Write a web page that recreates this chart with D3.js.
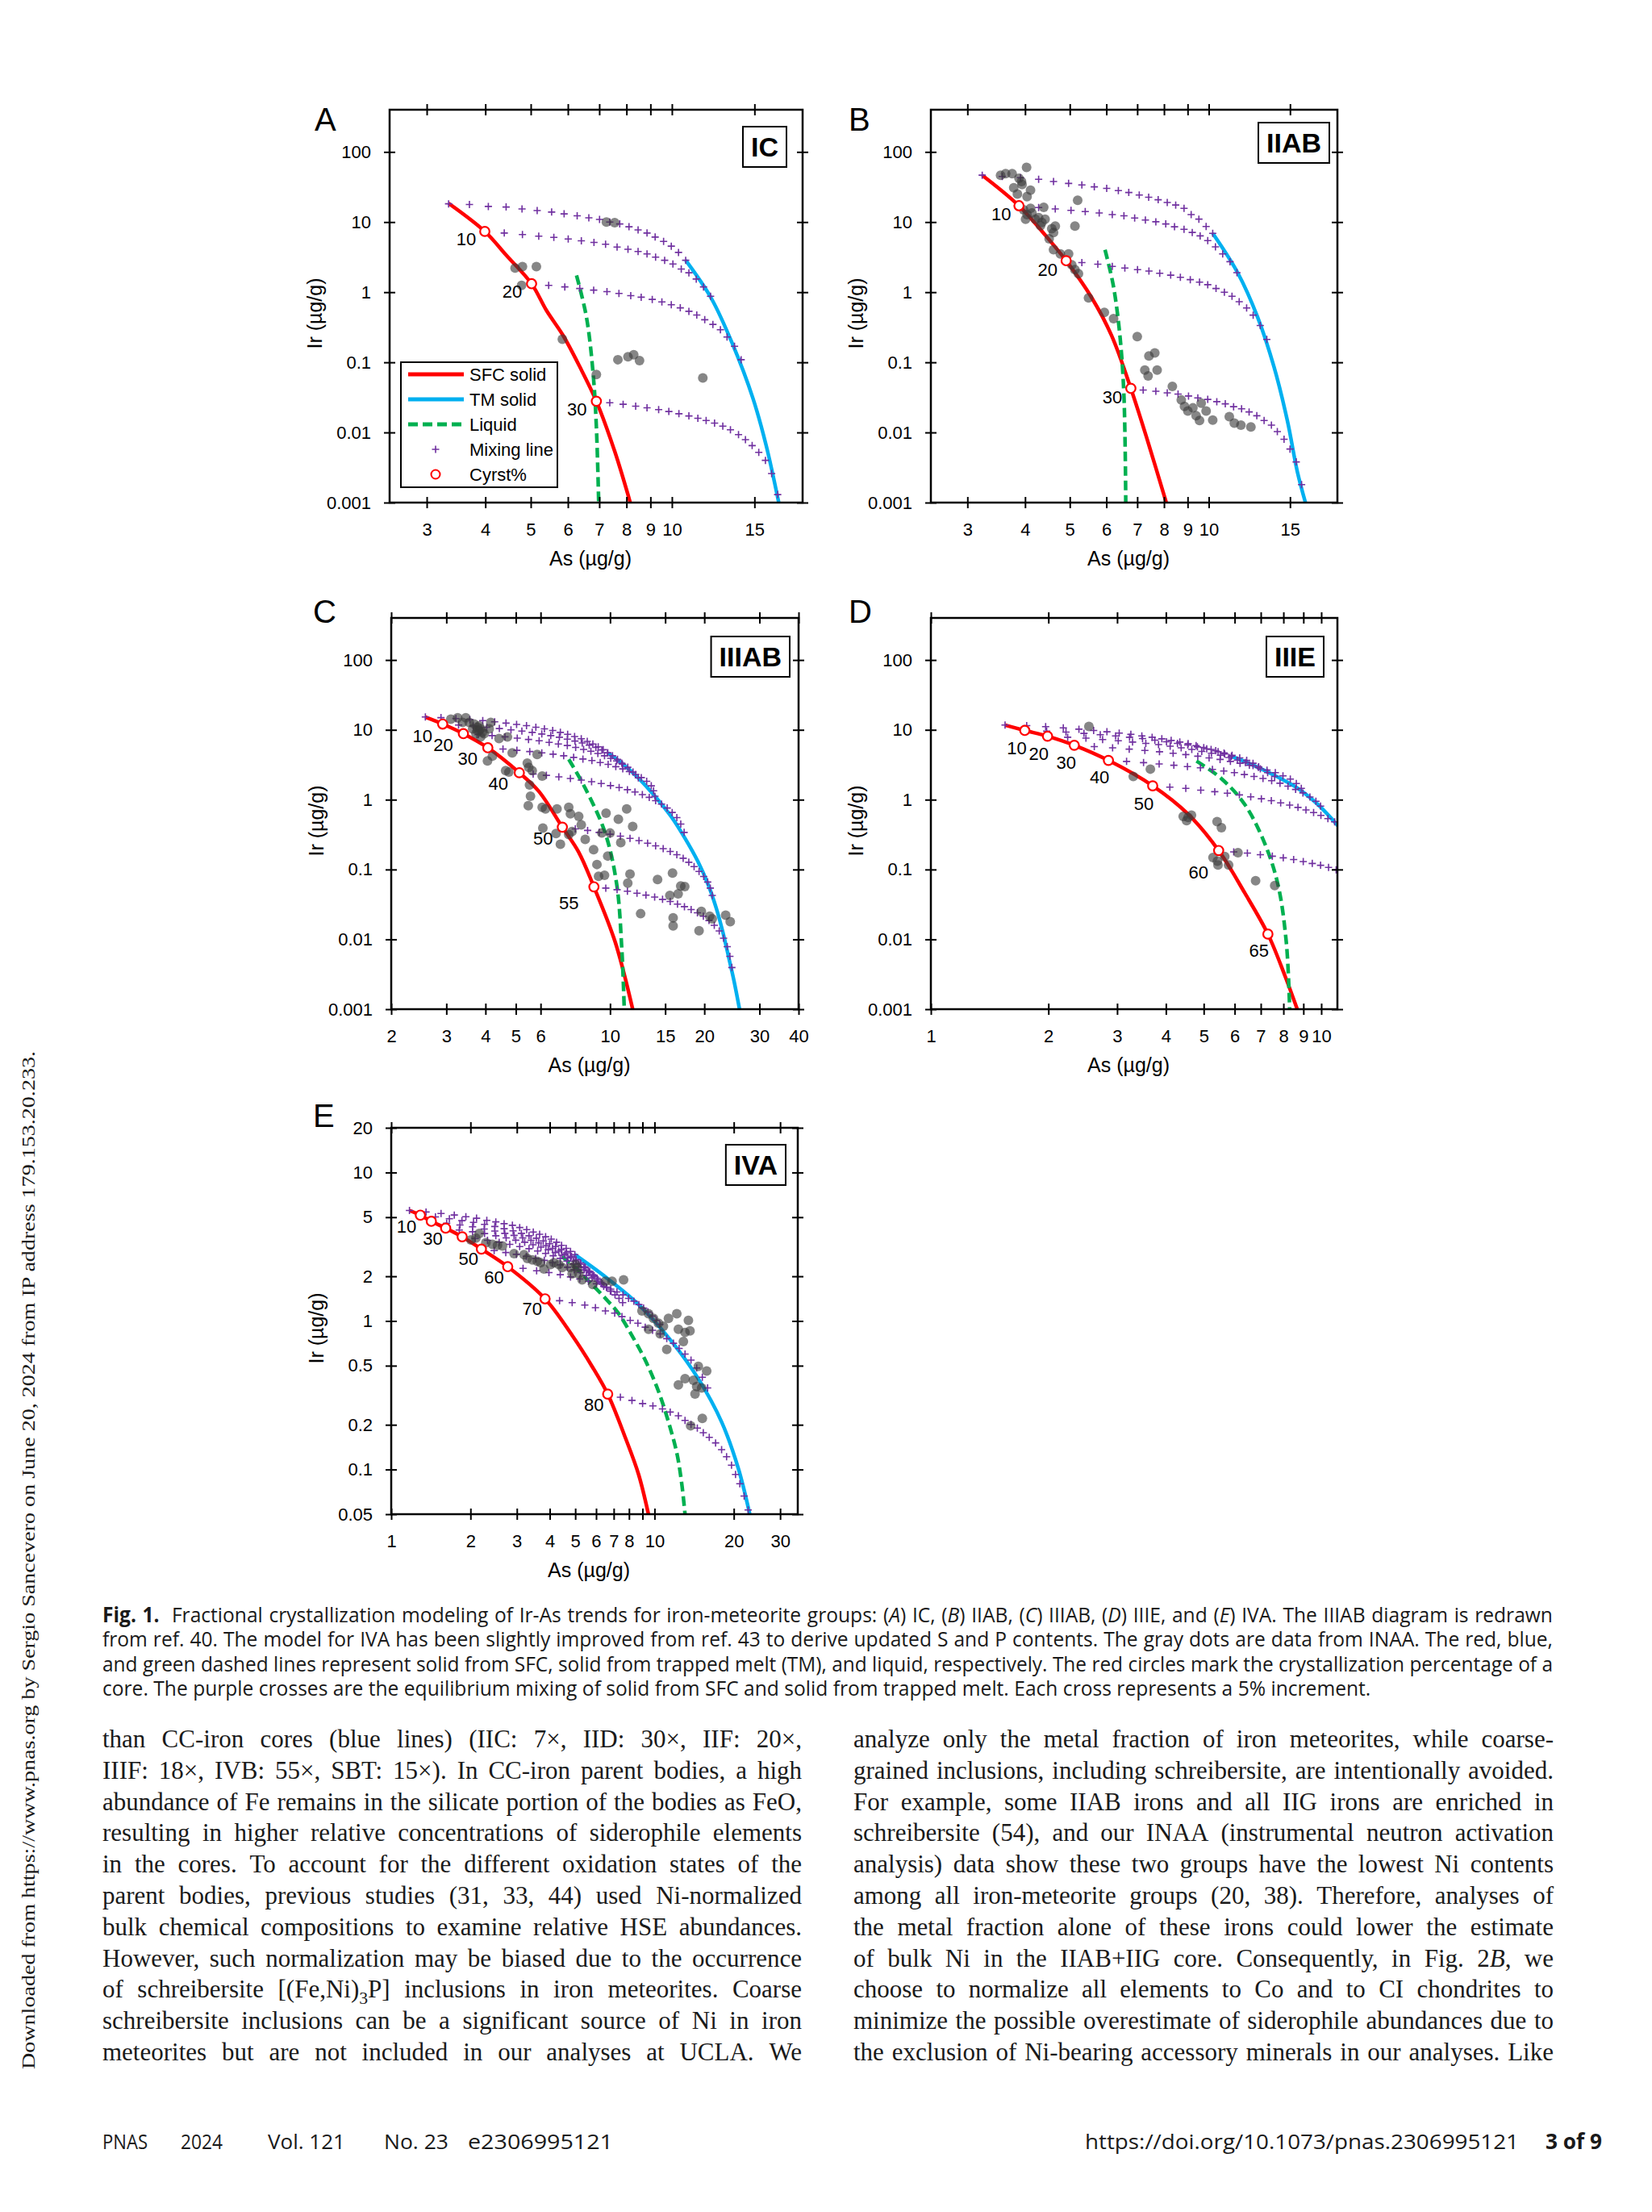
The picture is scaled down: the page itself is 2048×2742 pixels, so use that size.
<!DOCTYPE html>
<html>
<head>
<meta charset="utf-8">
<script src="https://cdn.jsdelivr.net/npm/d3@7"></script>
<style>
  body { margin: 0; background: #fff; }
  svg { display: block; }
</style>
</head>
<body>
<div id="container"></div>
<script>
// ---------- data (As, Ir in µg/g) ----------

// A: IC
const icSfc = [[3.34,18.5],[3.99,7.35],[4.44,3.33],[5.02,1.32],[5.40,0.55],[5.86,0.242],[6.36,0.0866],[6.90,0.0279],[7.55,0.0054],[8.15,0.001]];
const icTm = [[10.7,2.85],[12.12,0.83],[13.49,0.178],[14.88,0.031],[15.88,0.0066],[16.9,0.001]];
const icLiq = [[6.26,1.74],[6.57,0.449],[6.79,0.0705],[6.90,0.0123],[6.98,0.001]];
const icMix0 = [[3.34,18.2],[3.70,17.8],[4.06,16.7],[4.43,16.4],[4.79,15.4],[5.16,14.6],[5.54,13.9],[5.89,13.1],[6.28,12.3],[6.65,11.5],[7.01,10.9],[7.37,10],[7.74,9.4],[8.10,8.57],[8.47,7.73],[8.85,6.98],[9.21,6.11],[9.60,5.29],[9.97,4.53],[10.33,3.69],[10.7,2.85]];
const icMix10 = [[3.99,7.35],[4.39,6.98],[4.80,6.63],[5.20,6.29],[5.60,6.04],[6.01,5.74],[6.41,5.40],[6.82,5.13],[7.22,4.82],[7.64,4.40],[8.06,4.09],[8.47,3.80],[8.85,3.51],[9.23,3.16],[9.65,2.85],[10.05,2.52],[10.47,2.14],[10.87,1.89],[11.27,1.54],[11.68,1.19],[12.09,0.875]];
const icMix20 = [[5.02,1.32],[5.46,1.25],[5.91,1.19],[6.36,1.13],[6.81,1.07],[7.27,1.02],[7.71,0.96],[8.17,0.893],[8.60,0.849],[9.08,0.789],[9.52,0.727],[9.97,0.663],[10.42,0.598],[10.87,0.534],[11.30,0.472],[11.75,0.405],[12.23,0.347],[12.69,0.291],[13.11,0.230],[13.6,0.169],[14.05,0.109]];
const icMix30 = [[6.90,0.0279],[7.37,0.0265],[7.87,0.0252],[8.37,0.0237],[8.85,0.0225],[9.37,0.0212],[9.85,0.0199],[10.35,0.0185],[10.87,0.0172],[11.36,0.0159],[11.83,0.0148],[12.33,0.0136],[12.84,0.0123],[13.33,0.0109],[13.87,0.0093],[14.35,0.0079],[14.83,0.0065],[15.32,0.0052],[15.83,0.0040],[16.32,0.0026],[16.81,0.0013]];
const icCirc = [[3.99,7.35,10],[5.02,1.32,20],[6.90,0.0279,30]];
const icDots = [[4.63,2.21],[4.80,2.32],[5.14,2.32],[4.78,1.25],[5.84,0.214],[7.25,10],[7.55,9.8],[6.90,0.067],[7.67,0.109],[8.06,0.120],[8.29,0.128],[8.53,0.106],[11.64,0.060]];

// B: IIAB
const iiabSfc = [[3.23,46.6],[3.88,17.1],[4.42,6.55],[4.91,2.81],[5.58,0.83],[6.16,0.24],[6.78,0.0425],[7.39,0.0072],[8.09,0.001]];
const iiabTm = [[10.2,6.9],[11.55,1.90],[12.75,0.447],[13.85,0.0857],[14.8,0.0148],[15.55,0.0028],[16.2,0.001]];
const iiabLiq = [[5.96,4.03],[6.21,1.26],[6.42,0.24],[6.55,0.0338],[6.61,0.001]];
const iiabMix0 = [[3.23,46.6],[3.57,44.7],[3.91,42.9],[4.28,40.7],[4.61,37.9],[4.97,35.6],[5.31,33.8],[5.65,31.8],[6.01,30.2],[6.37,28.1],[6.71,26.4],[7.07,24.3],[7.41,22.6],[7.77,20.8],[8.13,19.0],[8.48,17.5],[8.84,15.7],[9.16,12.8],[9.52,11.0],[9.87,8.66],[10.2,6.9]];
const iiabMix10 = [[3.88,17.1],[4.28,16.1],[4.65,15.4],[5.03,14.7],[5.40,14.1],[5.79,13.5],[6.18,12.8],[6.55,12.3],[6.91,11.4],[7.29,10.7],[7.68,10.1],[8.07,9.4],[8.43,8.57],[8.84,7.88],[9.21,7.11],[9.58,6.35],[9.95,5.44],[10.34,4.43],[10.72,3.52],[11.12,2.72],[11.51,1.90]];
const iiabMix20 = [[4.91,2.81],[5.31,2.64],[5.75,2.51],[6.18,2.33],[6.58,2.21],[7.01,2.10],[7.42,2.00],[7.83,1.86],[8.27,1.75],[8.68,1.63],[9.12,1.51],[9.55,1.39],[9.95,1.28],[10.37,1.13],[10.81,1.0],[11.23,0.875],[11.64,0.733],[12.08,0.597],[12.48,0.471],[12.93,0.335],[13.36,0.212]];
const iiabMix30 = [[6.78,0.0425],[7.21,0.0403],[7.68,0.0387],[8.13,0.0367],[8.58,0.0352],[9.04,0.0331],[9.47,0.0311],[9.95,0.0296],[10.41,0.0275],[10.86,0.0256],[11.32,0.0233],[11.78,0.0217],[12.23,0.0196],[12.71,0.0173],[13.18,0.0148],[13.67,0.0127],[14.08,0.0103],[14.56,0.0080],[15.0,0.0058],[15.47,0.0038],[15.89,0.0018]];
const iiabCirc = [[3.88,17.1,10],[4.91,2.81,20],[6.78,0.0425,30]];
const iiabDots = [[3.54,46.6],[3.63,49.1],[3.75,49.1],[3.88,42.0],[3.93,37.9],[4.03,60.3],[4.11,28.4],[4.04,23.1],[3.78,30.8],[3.85,25.1],[3.94,34.2],[3.97,14.96],[4.04,12.8],[4.14,13.5],[4.21,11.0],[4.28,11.6],[4.35,9.9],[4.42,11.0],[4.32,8.9],[4.01,11.0],[4.11,15.7],[4.39,16.2],[4.57,8.05],[4.65,8.75],[4.61,7.11],[4.51,5.79],[4.61,4.03],[4.77,3.52],[4.97,3.52],[5.05,2.45],[5.13,2.10],[5.22,1.84],[5.20,20.4],[5.13,8.75],[5.49,0.83],[5.94,0.516],[6.22,0.420],[7.0,0.233],[7.42,0.123],[7.64,0.136],[7.27,0.0773],[7.39,0.0641],[7.73,0.0773],[8.34,0.0452],[8.72,0.029],[8.86,0.0236],[9.01,0.0202],[9.24,0.0224],[9.39,0.0173],[9.63,0.0261],[9.87,0.0202],[9.55,0.0148],[10.2,0.015],[11.08,0.0168],[11.36,0.0136],[11.74,0.0127],[12.34,0.012]];

// C: IIIAB
const iiiabSfc = [[2.57,15.2],[2.92,12.1],[3.40,8.81],[4.07,5.53],[5.13,2.43],[5.92,1.32],[7.04,0.404],[7.94,0.177],[8.88,0.0565],[10.38,0.0092],[11.81,0.001]];
const iiiabTm = [[9.84,4.68],[10.90,3.33],[12.31,2.05],[13.91,1.12],[15.71,0.565],[17.32,0.284],[19.10,0.129],[20.55,0.0615],[21.84,0.0279],[22.93,0.0126],[24.08,0.00488],[24.98,0.00233],[25.91,0.001]];
const iiiabLiq = [[7.38,3.78],[8.33,1.46],[9.65,0.333],[10.5,0.0615],[10.9,0.0074],[11.1,0.001]];
const iiiabMix0 = [[2.571,15.26],[2.884,14.94],[3.218,14.47],[3.565,14.02],[3.921,13.58],[4.280,13.02],[4.652,12.48],[5.029,11.97],[5.409,11.47],[5.794,10.88],[6.171,10.32],[6.559,9.79],[6.938,9.19],[7.320,8.63],[7.704,8.01],[8.091,7.44],[8.456,6.84],[8.812,6.28],[9.165,5.71],[9.506,5.20],[9.835,4.68]];
const iiiabMix10 = [[2.919,12.09],[3.282,11.72],[3.654,11.35],[4.037,10.88],[4.430,10.43],[4.825,10],[5.228,9.59],[5.640,9.19],[6.053,8.72],[6.465,8.27],[6.888,7.84],[7.302,7.36],[7.724,6.91],[8.150,6.49],[8.580,6.02],[9.007,5.59],[9.413,5.14],[9.81,4.68],[10.18,4.25],[10.56,3.78],[10.90,3.33]];
const iiiabMix20 = [[3.396,8.81],[3.790,8.54],[4.199,8.27],[4.617,7.93],[5.053,7.60],[5.490,7.28],[5.935,6.98],[6.389,6.62],[6.837,6.28],[7.302,5.96],[7.764,5.59],[8.231,5.25],[8.685,4.93],[9.141,4.58],[9.60,4.25],[10.05,3.91],[10.50,3.59],[10.95,3.23],[11.39,2.91],[11.84,2.48],[12.31,2.05]];
const iiiabMix30 = [[4.068,5.53],[4.55,5.31],[5.04,5.09],[5.54,4.88],[6.053,4.68],[6.577,4.48],[7.110,4.25],[7.650,4.03],[8.19,3.82],[8.75,3.63],[9.30,3.40],[9.86,3.20],[10.43,2.97],[10.98,2.76],[11.53,2.53],[12.07,2.30],[12.58,2.07],[13.09,1.83],[13.54,1.58],[13.77,1.34],[13.91,1.12]];
const iiiabMix40 = [[5.13,2.43],[5.68,2.33],[6.26,2.23],[6.86,2.12],[7.47,2.01],[8.09,1.91],[8.73,1.81],[9.37,1.70],[10.03,1.59],[10.69,1.49],[11.36,1.39],[12.01,1.29],[12.68,1.18],[13.34,1.08],[13.98,0.969],[14.60,0.863],[15.22,0.760],[15.79,0.656],[16.34,0.553],[16.82,0.448],[17.24,0.340]];
const iiiabMix50 = [[7.04,0.403],[7.745,0.382],[8.478,0.363],[9.23,0.340],[10.0,0.320],[10.79,0.300],[11.58,0.279],[12.37,0.259],[13.18,0.238],[13.98,0.218],[14.78,0.199],[15.56,0.181],[16.34,0.163],[17.12,0.145],[17.84,0.127],[18.55,0.110],[19.24,0.0939],[19.91,0.0793],[20.5,0.0662],[20.9,0.0542],[21.2,0.0425]];
const iiiabMix55 = [[8.88,0.0565],[9.69,0.0542],[10.53,0.0514],[11.36,0.0488],[12.19,0.0458],[13.02,0.0430],[13.88,0.0403],[14.71,0.0374],[15.56,0.0348],[16.42,0.0320],[17.28,0.0294],[18.15,0.0267],[19.01,0.0240],[19.86,0.0214],[20.70,0.0186],[21.52,0.0159],[22.32,0.0132],[23.04,0.0104],[23.67,0.00784],[24.14,0.00571],[24.49,0.00395]];
const iiiabCirc = [[2.92,12.1,10],[3.40,8.81,20],[4.07,5.53,30],[5.13,2.43,40],[7.04,0.404,50],[8.88,0.0565,55]];
const iiiabDots = [[3.10,14.2],[3.26,14.9],[3.46,14.9],[3.38,12.8],[3.55,12.8],[3.68,12.1],[3.77,10.9],[3.82,9.8],[3.64,10.3],[3.73,8.81],[3.86,7.93],[3.96,8.81],[4.16,12.8],[4.11,10.3],[4.42,7.52],[4.70,7.93],[4.87,4.68],[4.06,3.59],[4.21,4.21],[4.64,2.61],[4.75,2.48],[5.44,3.33],[5.50,2.90],[5.64,2.61],[5.85,4.44],[6.07,2.18],[5.53,1.63],[5.57,1.12],[5.48,0.818],[6.07,0.776],[6.22,0.736],[6.77,0.736],[7.38,0.776],[7.47,0.628],[7.94,0.577],[6.10,0.391],[6.72,0.327],[6.94,0.230],[7.38,0.316],[7.56,0.351],[8.09,0.435],[8.33,0.270],[8.86,0.192],[9.08,0.118],[9.19,0.080],[9.60,0.0826],[9.41,0.333],[9.83,0.156],[9.71,0.641],[10.63,0.525],[11.30,0.736],[11.81,0.412],[10.82,0.243],[11.58,0.0863],[11.39,0.0636],[12.52,0.0233],[14.18,0.0721],[15.52,0.0425],[15.83,0.0891],[16.5,0.0448],[16.82,0.0583],[17.32,0.057],[15.9,0.0203],[15.9,0.0156],[19.24,0.0133],[19.57,0.0251],[20.8,0.0214],[21.2,0.0197],[23.4,0.0221],[24.2,0.0179],[3.82,11.4],[3.86,10.3],[3.91,9.2],[3.77,9.8],[10.0,0.333]];

// D: IIIE
const iiieSfc = [[1.55,11.7],[1.74,9.8],[1.99,8.09],[2.33,6.01],[2.85,3.65],[3.70,1.58],[4.56,0.621],[5.46,0.187],[6.37,0.0461],[7.30,0.0119],[8.06,0.00308],[8.68,0.001]];
const iiieTm = [[5.886,4.19],[6.754,3.05],[7.748,2.10],[8.717,1.45],[9.806,0.853],[11.07,0.414]];
const iiieLiq = [[4.79,3.57],[5.55,2.0],[6.37,0.853],[7.16,0.239],[7.75,0.0601],[8.14,0.0089],[8.30,0.001]];
const iiieMix0 = [[1.549,11.73],[1.760,11.48],[1.968,11.12],[2.184,10.66],[2.395,10.21],[2.612,9.79],[2.825,9.38],[3.037,8.99],[3.253,8.62],[3.471,8.17],[3.688,7.83],[3.905,7.43],[4.126,7.05],[4.342,6.68],[4.560,6.34],[4.780,5.95],[5.001,5.58],[5.222,5.24],[5.441,4.86],[5.658,4.51],[5.886,4.19]];
const iiieMix10 = [[1.743,9.79],[1.980,9.58],[2.219,9.28],[2.467,8.90],[2.716,8.53],[2.973,8.17],[3.228,7.83],[3.485,7.51],[3.747,7.12],[4.014,6.75],[4.282,6.40],[4.551,6.07],[4.817,5.70],[5.089,5.35],[5.366,5.02],[5.636,4.66],[5.909,4.32],[6.182,3.97],[6.442,3.65],[6.687,3.32],[6.914,2.95]];
const iiieMix20 = [[1.988,8.09],[2.241,7.83],[2.496,7.59],[2.754,7.27],[3.020,6.97],[3.286,6.68],[3.553,6.40],[3.830,6.14],[4.102,5.82],[4.377,5.52],[4.660,5.24],[4.942,4.91],[5.233,4.61],[5.517,4.32],[5.805,4.01],[6.098,3.69],[6.392,3.39],[6.687,3.08],[6.982,2.77],[7.290,2.44],[7.597,2.15]];
const iiieMix30 = [[2.330,6.01],[2.622,5.76],[2.921,5.52],[3.222,5.29],[3.533,5.07],[3.852,4.86],[4.174,4.61],[4.498,4.42],[4.828,4.19],[5.161,3.97],[5.506,3.77],[5.852,3.53],[6.194,3.32],[6.544,3.11],[6.901,2.89],[7.262,2.65],[7.627,2.44],[7.979,2.19],[8.332,1.97],[8.633,1.70],[8.890,1.45]];
const iiieMix40 = [[2.847,3.65],[3.172,3.53],[3.506,3.39],[3.844,3.25],[4.192,3.11],[4.542,2.98],[4.903,2.86],[5.263,2.71],[5.627,2.57],[5.991,2.44],[6.354,2.29],[6.726,2.15],[7.092,2.01],[7.464,1.87],[7.840,1.72],[8.218,1.56],[8.597,1.40],[8.976,1.25],[9.354,1.09],[9.690,0.948],[9.96,0.809]];
const iiieMix50 = [[3.696,1.58],[4.094,1.51],[4.498,1.45],[4.913,1.37],[5.336,1.30],[5.747,1.24],[6.171,1.17],[6.597,1.10],[7.024,1.03],[7.449,0.969],[7.871,0.899],[8.299,0.835],[8.717,0.775],[9.138,0.712],[9.559,0.654],[9.98,0.595],[10.40,0.535],[10.82,0.481]];
const iiieMix60 = [[5.464,0.187],[5.968,0.179],[6.468,0.172],[6.982,0.163],[7.493,0.155],[7.993,0.147],[8.497,0.139],[8.993,0.130],[9.484,0.122],[9.96,0.115],[10.44,0.107],[10.92,0.099]];
const iiieCirc = [[1.74,9.8,10],[1.99,8.09,20],[2.33,6.01,30],[2.85,3.65,40],[3.70,1.58,50],[5.46,0.187,60],[7.30,0.0119,65]];
const iiieDots = [[2.54,11.2],[3.30,2.15],[3.65,2.74],[4.43,0.575],[4.52,0.501],[4.65,0.601],[4.56,0.558],[5.41,0.486],[5.55,0.397],[5.28,0.148],[5.44,0.116],[5.42,0.132],[5.66,0.153],[5.79,0.116],[6.12,0.174],[6.79,0.069],[7.60,0.0589]];

// E: IVA
const ivaSfc = [[1.173,5.55],[1.29,5.16],[1.42,4.69],[1.61,4.22],[1.86,3.69],[2.20,3.05],[2.77,2.32],[3.84,1.41],[4.87,0.798],[5.79,0.495],[6.64,0.322],[7.74,0.1645],[8.70,0.0926],[9.49,0.0497]];
const ivaTm = [[4.98,2.80],[6.51,1.98],[8.70,1.29],[11.63,0.726],[14.67,0.408],[17.98,0.209],[20.8,0.102],[23.0,0.05]];
const ivaLiq = [[4.46,2.71],[5.16,2.18],[5.79,1.76],[6.51,1.42],[7.31,1.12],[8.21,0.798],[9.22,0.545],[10.35,0.337],[11.30,0.209],[12.15,0.1295],[12.69,0.0802],[13.06,0.05]];
const ivaMix0 = [[1.173,5.55],[1.356,5.42],[1.546,5.29],[1.736,5.17],[1.921,5.04],[2.109,4.92],[2.307,4.76],[2.496,4.65],[2.684,4.52],[2.886,4.41],[3.076,4.26],[3.270,4.12],[3.464,3.97],[3.661,3.84],[3.858,3.69],[4.053,3.56],[4.246,3.39],[4.436,3.23],[4.619,3.08],[4.797,2.94],[4.982,2.80]];
const ivaMix10 = [[1.287,5.17],[1.472,5.02],[1.663,4.88],[1.856,4.74],[2.054,4.61],[2.262,4.47],[2.474,4.33],[2.684,4.18],[2.903,4.05],[3.122,3.89],[3.337,3.75],[3.557,3.61],[3.780,3.46],[3.996,3.31],[4.209,3.17],[4.422,3.02],[4.632,2.88],[4.839,2.73],[5.040,2.59],[5.234,2.46],[5.435,2.32]];
const ivaMix20 = [[1.425,4.69],[1.624,4.56],[1.824,4.43],[2.037,4.31],[2.255,4.16],[2.474,4.03],[2.700,3.89],[2.928,3.77],[3.158,3.63],[3.395,3.49],[3.630,3.36],[3.869,3.22],[4.101,3.08],[4.333,2.95],[4.566,2.81],[4.797,2.68],[5.025,2.54],[5.248,2.41],[5.466,2.28],[5.677,2.15],[5.895,2.02]];
const ivaMix30 = [[1.605,4.22],[1.813,4.10],[2.037,3.99],[2.262,3.88],[2.496,3.75],[2.732,3.63],[2.971,3.50],[3.213,3.39],[3.455,3.26],[3.704,3.14],[3.949,3.02],[4.197,2.89],[4.449,2.77],[4.687,2.66],[4.924,2.53],[5.158,2.41],[5.388,2.29],[5.611,2.17],[5.827,2.05],[6.051,1.94],[6.266,1.82]];
const ivaMix40 = [[1.856,3.69],[2.084,3.59],[2.321,3.49],[2.570,3.39],[2.820,3.28],[3.076,3.17],[3.337,3.07],[3.598,2.96],[3.858,2.85],[4.124,2.75],[4.385,2.64],[4.646,2.53],[4.909,2.42],[5.158,2.32],[5.404,2.21],[5.644,2.11],[5.877,2.00],[6.103,1.90],[6.339,1.79],[6.564,1.69],[6.797,1.59]];
const ivaMix50 = [[2.203,3.05],[2.460,2.98],[2.723,2.89],[2.988,2.81],[3.260,2.73],[3.536,2.64],[3.814,2.56],[4.101,2.47],[4.385,2.39],[4.673,2.30],[4.953,2.21],[5.234,2.12],[5.513,2.03],[5.794,1.95],[6.051,1.85],[6.320,1.77],[6.584,1.68],[6.837,1.59],[7.079,1.50],[7.331,1.42],[7.568,1.33]];
const ivaMix60 = [[2.77,2.32],[3.167,2.26],[3.567,2.18],[3.972,2.12],[4.385,2.05],[4.797,1.98],[5.203,1.92],[5.611,1.85],[6.016,1.78],[6.412,1.71],[6.816,1.64],[7.20,1.57],[7.59,1.50],[7.97,1.42],[8.35,1.36],[8.72,1.29],[9.09,1.22],[9.44,1.15],[9.80,1.08],[10.15,1.01],[10.48,0.949]];
const ivaMix70 = [[3.836,1.41],[4.359,1.37],[4.867,1.33],[5.435,1.28],[5.965,1.23],[6.508,1.17],[7.059,1.13],[7.523,1.07],[8.087,1.01],[8.647,0.967],[9.22,0.909],[9.83,0.866],[10.51,0.818],[11.13,0.761],[11.80,0.708],[12.40,0.653],[13.06,0.599],[13.76,0.545],[14.46,0.483],[15.19,0.418],[15.91,0.354]];
const ivaMix80 = [[6.64,0.322],[7.42,0.3065],[8.21,0.292],[9.01,0.278],[9.86,0.268],[10.72,0.2556],[11.47,0.2436],[12.32,0.230],[13.06,0.214],[13.76,0.201],[14.54,0.190],[15.32,0.177],[16.14,0.1645],[17.06,0.151],[17.98,0.136],[18.78,0.122],[19.61,0.107],[20.31,0.0926],[21.09,0.0802],[21.90,0.0663],[22.68,0.0534]];
const ivaCirc = [[1.29,5.16,10],[1.42,4.69,20],[1.61,4.22,30],[1.86,3.69,40],[2.20,3.05,50],[2.77,2.32,60],[3.84,1.41,70],[6.64,0.322,80]];
const ivaDots = [[2.007,3.52],[2.159,3.88],[2.097,3.61],[2.288,3.36],[2.424,3.28],[2.533,3.23],[2.645,3.20],[2.928,2.84],[3.195,2.80],[3.289,2.64],[3.435,2.58],[3.588,2.52],[3.694,2.47],[3.802,2.24],[4.030,2.40],[4.148,2.47],[4.333,2.40],[4.461,2.29],[4.797,2.29],[5.011,2.40],[5.084,2.29],[5.158,2.08],[5.310,1.89],[4.867,2.08],[5.827,1.76],[6.508,1.85],[6.897,1.85],[7.63,1.89],[8.96,1.17],[9.49,1.12],[9.91,1.04],[10.35,0.967],[10.81,0.922],[11.30,1.04],[12.15,1.12],[13.45,1.01],[12.32,0.879],[13.06,0.838],[13.64,0.857],[9.49,0.879],[10.51,0.818],[11.13,0.644],[12.87,0.726],[12.32,0.371],[13.06,0.409],[14.05,0.399],[14.67,0.495],[15.78,0.461],[14.46,0.362],[15.10,0.354],[14.25,0.322],[13.72,0.197],[15.19,0.221]];

// axis ticks
const ticksAB = [3,4,5,6,7,8,9,10,15];
const ticksC = [2,3,4,5,6,10,15,20,30,40];
const ticksD = [1,2,3,4,5,6,7,8,9,10];
const ticksE = [1,2,3,4,5,6,7,8,9,10,20,30];
const labelsE = [1,2,3,4,5,6,7,8,10,20,30];
const yTicksMain = [0.001,0.01,0.1,1,10,100];
const yTicksE = [0.05,0.1,0.2,0.5,1,2,5,10,20];

const legendItems = ['SFC solid','TM solid','Liquid','Mixing line','Cyrst%'];

// ---------- drawing ----------
const SANS = "'Liberation Sans', Arial, Helvetica, sans-serif";
const RED = '#ff0000', BLUE = '#00b0f0', GREEN = '#00b050', PURPLE = '#7030a0';
const CROSS = 'M-4.5,0H4.5M0,-4.5V4.5';
const fmt = d3.format('~g');

const svg = d3.select('#container').append('svg')
  .attr('width', 2048).attr('height', 2742);
svg.append('rect').attr('width', 2048).attr('height', 2742).attr('fill', '#fff');

const panels = [
  {id:'A', name:'IC', x0:483, x1:995, y0:136, y1:623, xDom:[2.5,19], yDom:[0.001,400],
   xMarks:ticksAB, xLabels:ticksAB, yTicks:yTicksMain,
   sfc:icSfc, tm:icTm, liq:icLiq, mix:[icMix0,icMix10,icMix20,icMix30], circ:icCirc, dots:icDots,
   lab:{10:[-23,10],20:[-24,10],30:[-24,10]}, box:[20,21], letter:[390,162], legend:true},
  {id:'B', name:'IIAB', x0:1154, x1:1658, y0:136, y1:623, xDom:[2.5,19], yDom:[0.001,400],
   xMarks:ticksAB, xLabels:ticksAB, yTicks:yTicksMain,
   sfc:iiabSfc, tm:iiabTm, liq:iiabLiq, mix:[iiabMix0,iiabMix10,iiabMix20,iiabMix30], circ:iiabCirc, dots:iiabDots,
   lab:{10:[-22,10],20:[-23,11],30:[-23,11]}, box:[10,16], letter:[1052,162]},
  {id:'C', name:'IIIAB', x0:485, x1:990, y0:766, y1:1251, xDom:[2,40], yDom:[0.001,400],
   xMarks:ticksC, xLabels:ticksC, yTicks:yTicksMain,
   sfc:iiiabSfc, tm:iiiabTm, liq:iiiabLiq, mix:[iiiabMix0,iiiabMix10,iiiabMix20,iiiabMix30,iiiabMix40,iiiabMix50,iiiabMix55], circ:iiiabCirc, dots:iiiabDots,
   lab:{10:[-25,15],20:[-25,14],30:[-25,14],40:[-26,14],50:[-24,14],55:[-31,20]}, box:[11,23], letter:[388,772]},
  {id:'D', name:'IIIE', x0:1154, x1:1658, y0:766, y1:1251, xDom:[1,11], yDom:[0.001,400],
   xMarks:ticksD, xLabels:ticksD, yTicks:yTicksMain,
   sfc:iiieSfc, tm:iiieTm, liq:iiieLiq, mix:[iiieMix0,iiieMix10,iiieMix20,iiieMix30,iiieMix40,iiieMix50,iiieMix60], circ:iiieCirc, dots:iiieDots,
   lab:{10:[-10,22],20:[-11,22],30:[-10,22],40:[-11,21],50:[-11,22],60:[-25,27],65:[-11,21]}, box:[17,23], letter:[1052,772]},
  {id:'E', name:'IVA', x0:485, x1:989, y0:1398, y1:1877, xDom:[1,35], yDom:[0.05,20],
   xMarks:ticksE, xLabels:labelsE, yTicks:yTicksE,
   sfc:ivaSfc, tm:ivaTm, liq:ivaLiq, mix:[ivaMix0,ivaMix10,ivaMix20,ivaMix30,ivaMix40,ivaMix50,ivaMix60,ivaMix70,ivaMix80], circ:ivaCirc, dots:ivaDots,
   lab:{10:[-17,14],30:[-16,13],50:[-16,12],60:[-17,13],70:[-16,12],80:[-17,13]}, box:[15,21], letter:[388,1397]}
];

function styleAxis(sel) {
  sel.select('.domain').remove();
  sel.selectAll('line').attr('stroke', '#000').attr('stroke-width', 2);
  sel.selectAll('text').attr('font-size', 22).attr('font-family', SANS).attr('fill', '#000');
}

function drawPanel(p) {
  const x = d3.scaleLog().domain(p.xDom).range([p.x0, p.x1]);
  const y = d3.scaleLog().domain(p.yDom).range([p.y1, p.y0]);
  const g = svg.append('g').attr('font-family', SANS);

  g.append('clipPath').attr('id', 'clip' + p.id)
    .append('rect').attr('x', p.x0).attr('y', p.y0)
    .attr('width', p.x1 - p.x0).attr('height', p.y1 - p.y0);
  const plot = g.append('g').attr('clip-path', `url(#clip${p.id})`);

  const line = d3.line().x(d => x(d[0])).y(d => y(d[1])).curve(d3.curveCatmullRom.alpha(0.5));
  plot.append('path').datum(p.sfc).attr('d', line)
    .attr('fill', 'none').attr('stroke', RED).attr('stroke-width', 4.5);
  plot.append('path').datum(p.tm).attr('d', line)
    .attr('fill', 'none').attr('stroke', BLUE).attr('stroke-width', 4.5);
  plot.append('path').datum(p.liq).attr('d', line)
    .attr('fill', 'none').attr('stroke', GREEN).attr('stroke-width', 4.5)
    .attr('stroke-dasharray', '12,6');

  plot.selectAll('path.mix').data(p.mix.flat()).join('path').attr('class', 'mix')
    .attr('d', CROSS)
    .attr('transform', d => `translate(${x(d[0])},${y(d[1])})`)
    .attr('stroke', PURPLE).attr('stroke-width', 1.6);

  plot.selectAll('circle.dot').data(p.dots).join('circle').attr('class', 'dot')
    .attr('cx', d => x(d[0])).attr('cy', d => y(d[1])).attr('r', 6)
    .attr('fill', '#3c3c3c').attr('fill-opacity', 0.62);

  plot.selectAll('circle.pc').data(p.circ).join('circle').attr('class', 'pc')
    .attr('cx', d => x(d[0])).attr('cy', d => y(d[1])).attr('r', 5.8)
    .attr('fill', '#fff').attr('stroke', RED).attr('stroke-width', 2.2);

  g.selectAll('text.pct').data(p.circ.filter(d => p.lab[d[2]])).join('text').attr('class', 'pct')
    .attr('x', d => x(d[0]) + p.lab[d[2]][0])
    .attr('y', d => y(d[1]) + p.lab[d[2]][1])
    .attr('text-anchor', 'middle').attr('dominant-baseline', 'central')
    .attr('font-size', 22).text(d => d[2]);

  // frame + crossing ticks on all four sides
  g.append('rect').attr('x', p.x0).attr('y', p.y0)
    .attr('width', p.x1 - p.x0).attr('height', p.y1 - p.y0)
    .attr('fill', 'none').attr('stroke', '#000').attr('stroke-width', 2.5);

  const xLab = d => p.xLabels.includes(d) ? fmt(d) : '';
  g.append('g').attr('transform', `translate(0,${p.y1})`)
    .call(d3.axisBottom(x).tickValues(p.xMarks).tickSize(7).tickPadding(18).tickFormat(xLab)).call(styleAxis);
  g.append('g').attr('transform', `translate(0,${p.y1})`)
    .call(d3.axisBottom(x).tickValues(p.xMarks).tickSize(-7).tickFormat('')).call(styleAxis);
  g.append('g').attr('transform', `translate(0,${p.y0})`)
    .call(d3.axisTop(x).tickValues(p.xMarks).tickSize(7).tickFormat('')).call(styleAxis);
  g.append('g').attr('transform', `translate(0,${p.y0})`)
    .call(d3.axisTop(x).tickValues(p.xMarks).tickSize(-7).tickFormat('')).call(styleAxis);
  g.append('g').attr('transform', `translate(${p.x0},0)`)
    .call(d3.axisLeft(y).tickValues(p.yTicks).tickSize(7).tickPadding(16).tickFormat(fmt)).call(styleAxis);
  g.append('g').attr('transform', `translate(${p.x0},0)`)
    .call(d3.axisLeft(y).tickValues(p.yTicks).tickSize(-7).tickFormat('')).call(styleAxis);
  g.append('g').attr('transform', `translate(${p.x1},0)`)
    .call(d3.axisRight(y).tickValues(p.yTicks).tickSize(7).tickFormat('')).call(styleAxis);
  g.append('g').attr('transform', `translate(${p.x1},0)`)
    .call(d3.axisRight(y).tickValues(p.yTicks).tickSize(-7).tickFormat('')).call(styleAxis);

  // axis titles
  g.append('text').attr('x', (p.x0 + p.x1) / 2 - 7).attr('y', p.y1 + 78)
    .attr('text-anchor', 'middle').attr('font-size', 25).text('As (µg/g)');
  g.append('text')
    .attr('transform', `translate(${p.x0 - 84},${(p.y0 + p.y1) / 2 + 9}) rotate(-90)`)
    .attr('text-anchor', 'middle').attr('font-size', 25).text('Ir (µg/g)');

  // group name box
  const bt = g.append('text').attr('font-size', 34).attr('font-weight', 'bold')
    .attr('text-anchor', 'middle').text(p.name);
  const bw = bt.node().getComputedTextLength() + 20;
  const bx = p.x1 - p.box[0] - bw, by = p.y0 + p.box[1];
  g.insert('rect', () => bt.node()).attr('x', bx).attr('y', by).attr('width', bw).attr('height', 50)
    .attr('fill', '#fff').attr('stroke', '#000').attr('stroke-width', 2);
  bt.attr('x', bx + bw / 2).attr('y', by + 37);

  // panel letter
  g.append('text').attr('x', p.letter[0]).attr('y', p.letter[1]).attr('font-size', 40).text(p.id);

  if (p.legend) {
    const lg = g.append('g');
    lg.append('rect').attr('x', 497).attr('y', 449).attr('width', 194).attr('height', 155)
      .attr('fill', '#fff').attr('stroke', '#000').attr('stroke-width', 2);
    const ly = i => 464 + i * 31;
    lg.append('line').attr('x1', 506).attr('x2', 575).attr('y1', ly(0)).attr('y2', ly(0))
      .attr('stroke', RED).attr('stroke-width', 5);
    lg.append('line').attr('x1', 506).attr('x2', 575).attr('y1', ly(1)).attr('y2', ly(1))
      .attr('stroke', BLUE).attr('stroke-width', 5);
    lg.append('line').attr('x1', 506).attr('x2', 575).attr('y1', ly(2)).attr('y2', ly(2))
      .attr('stroke', GREEN).attr('stroke-width', 5).attr('stroke-dasharray', '12,6');
    lg.append('path').attr('d', CROSS).attr('transform', `translate(540,${ly(3)})`)
      .attr('stroke', PURPLE).attr('stroke-width', 1.6);
    lg.append('circle').attr('cx', 540).attr('cy', ly(4)).attr('r', 5.5)
      .attr('fill', '#fff').attr('stroke', RED).attr('stroke-width', 2);
    lg.selectAll('text').data(legendItems).join('text')
      .attr('x', 582).attr('y', (d, i) => ly(i)).attr('dominant-baseline', 'central')
      .attr('font-size', 22).text(d => d);
  }
}

panels.forEach(drawPanel);

// ---------- text on the page ----------
const captionLines = [
  '^Fig.^ ^1.^  Fractional crystallization modeling of Ir-As trends for iron-meteorite groups: (*A*) IC, (*B*) IIAB, (*C*) IIIAB, (*D*) IIIE, and (*E*) IVA. The IIIAB diagram is redrawn',
  'from ref. 40. The model for IVA has been slightly improved from ref. 43 to derive updated S and P contents. The gray dots are data from INAA. The red, blue,',
  'and green dashed lines represent solid from SFC, solid from trapped melt (TM), and liquid, respectively. The red circles mark the crystallization percentage of a',
  'core. The purple crosses are the equilibrium mixing of solid from SFC and solid from trapped melt. Each cross represents a 5% increment.'
];
const leftColumn = [
  'than CC-iron cores (blue lines) (IIC: 7×, IID: 30×, IIF: 20×,',
  'IIIF: 18×, IVB: 55×, SBT: 15×). In CC-iron parent bodies, a high',
  'abundance of Fe remains in the silicate portion of the bodies as FeO,',
  'resulting in higher relative concentrations of siderophile elements',
  'in the cores. To account for the different oxidation states of the',
  'parent bodies, previous studies (31, 33, 44) used Ni-normalized',
  'bulk chemical compositions to examine relative HSE abundances.',
  'However, such normalization may be biased due to the occurrence',
  'of schreibersite [(Fe,Ni)~3~P] inclusions in iron meteorites. Coarse',
  'schreibersite inclusions can be a significant source of Ni in iron',
  'meteorites but are not included in our analyses at UCLA. We'
];
const rightColumn = [
  'analyze only the metal fraction of iron meteorites, while coarse-',
  'grained inclusions, including schreibersite, are intentionally avoided.',
  'For example, some IIAB irons and all IIG irons are enriched in',
  'schreibersite (54), and our INAA (instrumental neutron activation',
  'analysis) data show these two groups have the lowest Ni contents',
  'among all iron-meteorite groups (20, 38). Therefore, analyses of',
  'the metal fraction alone of these irons could lower the estimate',
  'of bulk Ni in the IIAB+IIG core. Consequently, in Fig. 2*B*, we',
  'choose to normalize all elements to Co and to CI chondrites to',
  'minimize the possible overestimate of siderophile abundances due to',
  'the exclusion of Ni-bearing accessory minerals in our analyses. Like'
];

function rich(sel, str, size) {
  let shift = 0;
  str.split(/(\^[^^]+\^|\*[^*]+\*|~[^~]+~)/).filter(s => s.length).forEach(part => {
    const t = sel.append('tspan');
    if (shift) { t.attr('dy', -shift); shift = 0; }
    if (part[0] === '^') t.attr('font-weight', 'bold').text(part.slice(1, -1));
    else if (part[0] === '*') t.attr('font-style', 'italic').text(part.slice(1, -1));
    else if (part[0] === '~') { shift = size * 0.25; t.attr('font-size', size * 0.7).attr('dy', shift).text(part.slice(1, -1)); }
    else t.text(part);
  });
}

function textBlock(lines, o) {
  const g = svg.append('g').attr('font-family', o.font).attr('font-size', o.size).attr('fill', o.fill);
  const space = o.size * 0.26;
  const rows = lines.map((str, i) => {
    const row = g.append('g');
    const words = str.split(' ').map(w => { const t = row.append('text'); rich(t, w, o.size); return t; });
    const widths = words.map(t => t.node().getComputedTextLength());
    const sum = d3.sum(widths);
    return {row, words, widths, sum, natural: sum + space * (words.length - 1),
            justify: i < lines.length - 1 || o.justifyLast};
  });
  const ratios = rows.filter(r => r.justify).map(r => o.width / r.natural).sort(d3.ascending);
  const base = Math.min(o.maxScale, d3.quantile(ratios, 0.2));
  rows.forEach((r, i) => {
    const s = r.justify ? Math.min(base, o.width / r.natural) : base;
    const local = o.width / s;
    const gap = r.justify && r.words.length > 1 ? (local - r.sum) / (r.words.length - 1) : space;
    let cx = 0;
    r.words.forEach((t, k) => { t.attr('x', cx); cx += r.widths[k] + gap; });
    r.row.attr('transform', `translate(${o.x},${o.y + i * o.lead}) scale(${s},1)`);
  });
}

textBlock(captionLines, {x:127, y:2011, width:1798, lead:30.3, font:"'Open Sans', sans-serif",
  size:26, fill:'#1a1a1a', maxScale:1, justifyLast:false});
textBlock(leftColumn, {x:127, y:2166, width:867, lead:38.8, font:"'Liberation Serif', 'Times New Roman', serif",
  size:31, fill:'#1a1a1a', maxScale:1, justifyLast:true});
textBlock(rightColumn, {x:1058, y:2166, width:868, lead:38.8, font:"'Liberation Serif', 'Times New Roman', serif",
  size:31, fill:'#1a1a1a', maxScale:1, justifyLast:true});

// footer
const footY = 2664;
const foot = svg.append('g').attr('font-family', "'Open Sans', sans-serif").attr('font-size', 26).attr('fill', '#1a1a1a');
const footLeft = [['PNAS',127,56],['2024',224,52],['Vol. 121',332,96],['No. 23',476,80],['e2306995121',580,180]];
foot.selectAll('text.fl').data(footLeft).join('text').attr('class', 'fl')
  .attr('x', d => d[1]).attr('y', footY).attr('textLength', d => d[2])
  .attr('lengthAdjust', 'spacingAndGlyphs').text(d => d[0]);
foot.append('text').attr('x', 1345).attr('y', footY).attr('textLength', 538)
  .attr('lengthAdjust', 'spacingAndGlyphs').text('https://doi.org/10.1073/pnas.2306995121');
foot.append('text').attr('x', 1916).attr('y', footY).attr('textLength', 70).attr('font-weight', 'bold')
  .attr('lengthAdjust', 'spacingAndGlyphs').text('3 of 9');

// vertical download note
svg.append('text')
  .attr('transform', 'translate(43,2565) rotate(-90)')
  .attr('font-family', "'Liberation Serif', 'Times New Roman', serif").attr('font-size', 24)
  .attr('fill', '#1a1a1a').attr('textLength', 1262).attr('lengthAdjust', 'spacingAndGlyphs')
  .text('Downloaded from https://www.pnas.org by Sergio Sancevero on June 20, 2024 from IP address 179.153.20.233.');
</script>
</body>
</html>
